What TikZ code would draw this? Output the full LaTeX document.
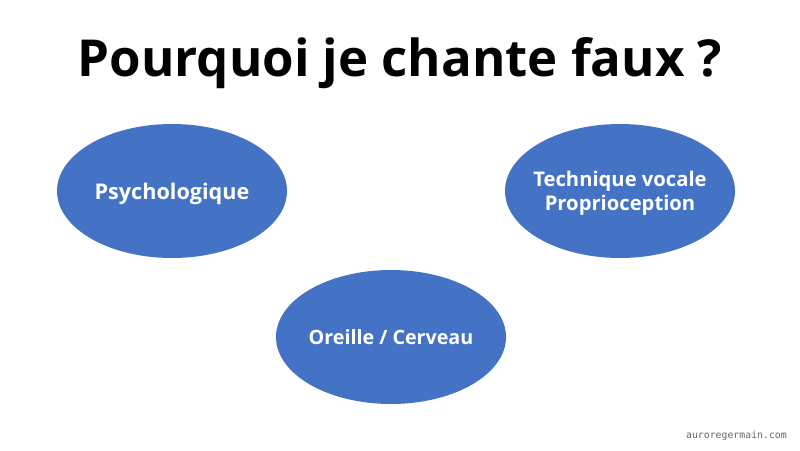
\documentclass[tikz,border=0pt]{standalone}
\usepackage{fontspec}
\setmainfont{Open Sans}
\newfontfamily\wmfont{DejaVu Sans Mono}
\usetikzlibrary{shapes.geometric}
\definecolor{ovalblue}{HTML}{4472C4}
\tikzset{
  oval/.style={ellipse, fill=ovalblue, draw=none, minimum width=230*0.02cm, minimum height=134*0.02cm,
    text=white, font=\bfseries\fontsize{11.5}{13.6}\selectfont, align=center, inner xsep=-12pt, inner ysep=0pt,
    text depth=0pt},
}
\begin{document}
\begin{tikzpicture}[x=0.02cm, y=-0.02cm]
\useasboundingbox[fill=white] (0,0) rectangle (800,450);
\node (titre) at (400,63) {\bfseries\fontsize{29}{34}\selectfont Pourquoi je chante faux ?};
\node[oval, font=\bfseries\fontsize{12.3}{13}\selectfont] (psy) at (172,191) {Psychologique};
\node[oval] (tech) at (620,191) {Technique vocale\\Proprioception};
\node[oval, font=\bfseries\fontsize{11.2}{12}\selectfont] (oreille) at (391,337) {Oreille / Cerveau};
\node[text=black!60, font=\wmfont\fontsize{5.6}{7}\selectfont, anchor=east] (site) at (793,436) {auroregermain.com};
\end{tikzpicture}
\end{document}
